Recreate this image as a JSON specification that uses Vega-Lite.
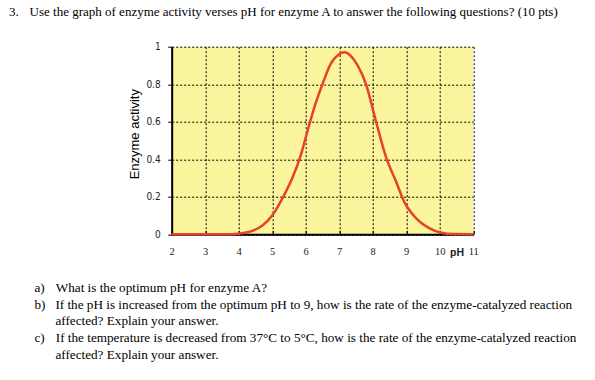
{
  "$schema": "https://vega.github.io/schema/vega-lite/v6.json",
  "width": 301.5,
  "height": 187.6,
  "autosize": {"type": "none"},
  "padding": {"left": 171.7, "top": 46.7, "right": 121.8, "bottom": 145.7},
  "background": "white",
  "title": {
    "text": "3.\u2002\u2005\u200aUse the graph of enzyme activity verses pH for enzyme A to answer the following questions? (10 pts)",
    "anchor": "start",
    "frame": "group",
    "dx": -162.7,
    "offset": 13,
    "baseline": "alphabetic",
    "font": "Liberation Serif",
    "fontSize": 13,
    "fontWeight": "normal",
    "color": "black"
  },
  "config": {
    "view": {"fill": "#fbf59e", "stroke": null}
  },
  "layer": [
    {
      "data": {
        "values": [
          {"pH": 2, "activity": 0},
          {"pH": 3, "activity": 0},
          {"pH": 3.8, "activity": 0},
          {"pH": 4.0, "activity": 0.003},
          {"pH": 4.3, "activity": 0.012},
          {"pH": 4.7, "activity": 0.045},
          {"pH": 5.0, "activity": 0.1},
          {"pH": 5.3, "activity": 0.19},
          {"pH": 5.6, "activity": 0.3},
          {"pH": 5.85, "activity": 0.42},
          {"pH": 6.1, "activity": 0.58},
          {"pH": 6.3, "activity": 0.7},
          {"pH": 6.5, "activity": 0.8},
          {"pH": 6.75, "activity": 0.91},
          {"pH": 7.0, "activity": 0.96},
          {"pH": 7.15, "activity": 0.97},
          {"pH": 7.35, "activity": 0.95},
          {"pH": 7.55, "activity": 0.9},
          {"pH": 7.8, "activity": 0.8},
          {"pH": 8.1, "activity": 0.6},
          {"pH": 8.4, "activity": 0.41},
          {"pH": 8.7, "activity": 0.28},
          {"pH": 8.95, "activity": 0.17},
          {"pH": 9.3, "activity": 0.085},
          {"pH": 9.7, "activity": 0.032},
          {"pH": 10.05, "activity": 0.008},
          {"pH": 10.4, "activity": 0.001},
          {"pH": 11, "activity": 0}
        ]
      },
      "mark": {"type": "line", "color": "#e8412c", "strokeWidth": 2.5, "interpolate": "monotone"},
      "encoding": {
        "x": {
          "field": "pH",
          "type": "quantitative",
          "scale": {"domain": [2, 11], "nice": false, "zero": false},
          "axis": {
            "values": [2, 3, 4, 5, 6, 7, 8, 9, 10, 11],
            "tickCount": 20,
            "format": "d",
            "labelFlush": false,
            "labelOverlap": false,
            "labelFont": "Liberation Serif",
            "labelFontSize": 10.5,
            "labelColor": "#222",
            "labelPadding": 16,
            "tickSize": -4,
            "tickColor": "black",
            "tickWidth": 1,
            "domainColor": "black",
            "domainWidth": 2,
            "gridColor": "black",
            "gridDash": [2, 2],
            "gridWidth": 1,
            "gridOpacity": 1,
            "title": [
              "a)\u2002\u2005\u200aWhat is the optimum pH for enzyme A?",
              "b)\u2002\u2005If the pH is increased from the optimum pH to 9, how is the rate of the enzyme-catalyzed reaction",
              "\u200b\u2003\u2002\u200aaffected? Explain your answer.",
              "c)\u2002\u2005\u200aIf the temperature is decreased from 37°C to 5°C, how is the rate of the enzyme-catalyzed reaction",
              "\u200b\u2003\u2002\u200aaffected? Explain your answer."
            ],
            "titleX": -137.7,
            "titleY": 57.4,
            "titleAlign": "left",
            "titleAnchor": "start",
            "titleBaseline": "alphabetic",
            "titleLineHeight": 16.6,
            "titleFont": "Liberation Serif",
            "titleFontSize": 13.2,
            "titleFontWeight": "normal",
            "titleColor": "black"
          }
        },
        "y": {
          "field": "activity",
          "type": "quantitative",
          "scale": {"domain": [0, 1], "nice": false},
          "axis": {
            "values": [0, 0.2, 0.4, 0.6, 0.8, 1],
            "tickCount": 20,
            "format": "~g",
            "labelFont": "Liberation Sans Narrow, DejaVu Sans Condensed, sans-serif",
            "labelFontSize": 10,
            "labelColor": "#222",
            "labelPadding": 7.5,
            "tickSize": 4,
            "tickColor": "black",
            "domainColor": "black",
            "domainWidth": 2,
            "gridColor": "black",
            "gridDash": [2, 2],
            "gridWidth": 1,
            "gridOpacity": 1,
            "title": "Enzyme activity",
            "titleFont": "Liberation Sans",
            "titleFontSize": 13,
            "titleFontWeight": "normal",
            "titleColor": "black",
            "titleX": -33,
            "titleY": 87,
            "titleAlign": "center",
            "titleBaseline": "alphabetic",
            "titleAngle": -90
          }
        }
      }
    },
    {
      "data": {"values": [{"label": "pH", "pH": 10.52, "activity": 0}]},
      "mark": {"type": "text", "font": "Liberation Sans", "fontWeight": "bold", "fontSize": 10.5, "color": "#222", "baseline": "alphabetic", "align": "center", "dy": 21.7},
      "encoding": {
        "x": {"field": "pH", "type": "quantitative"},
        "y": {"field": "activity", "type": "quantitative"},
        "text": {"field": "label"}
      }
    }
  ]
}
